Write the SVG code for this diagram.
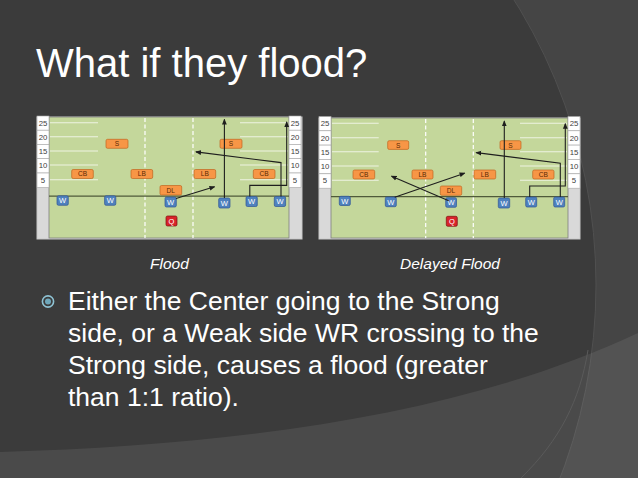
<svg xmlns="http://www.w3.org/2000/svg" width="638" height="478" viewBox="0 0 638 478">
<style>
.bg{fill:#454545}
.ttl{font-family:"Liberation Sans",Arial,sans-serif;font-size:40px;fill:#ffffff}
.cap{font-family:"Liberation Sans",Arial,sans-serif;font-size:15.5px;font-style:italic;fill:#ffffff}
.body{font-family:"Liberation Sans",Arial,sans-serif;font-size:26.5px;fill:#ffffff}
.frame{fill:#d9d9d9;stroke:#c8c8c8;stroke-width:1}
.field{fill:#c4d79b;stroke:#7f7f7f;stroke-width:0.8}
.num{fill:#ffffff;stroke:#a6a6a6;stroke-width:0.6}
.numt{font-family:"Liberation Sans",Arial,sans-serif;font-size:7.8px;fill:#404040;text-anchor:middle}
.yl{stroke:#eef3e2;stroke-width:1.1}
.dash{stroke:#ffffff;stroke-width:1.2;stroke-dasharray:4 2.5}
.los{stroke:#4f5a3a;stroke-width:1.3}
.def rect{fill:#f79646;stroke:#c0651f;stroke-width:0.7}
.def text{font-family:"Liberation Sans",Arial,sans-serif;font-size:6.6px;fill:#5a2a05;text-anchor:middle}
.off rect{fill:#4f81bd;stroke:#2f5597;stroke-width:0.7}
.off text{font-family:"Liberation Sans",Arial,sans-serif;font-size:7.5px;fill:#ffffff;text-anchor:middle}
.qb rect{fill:#d8232a;stroke:#7a1010;stroke-width:0.7}
.qb text{font-family:"Liberation Sans",Arial,sans-serif;font-size:7.5px;fill:#ffffff;text-anchor:middle}
.route{fill:none;stroke:#1e1e1e;stroke-width:1.1;marker-end:url(#ah)}
</style>
<defs>
<marker id="ah" markerUnits="userSpaceOnUse" markerWidth="6" markerHeight="6" viewBox="0 0 6 6" refX="5" refY="3" orient="auto">
<path d="M0,0.6 L6,3 L0,5.4 Z" fill="#1e1e1e"/>
</marker>
</defs>

<!-- background -->
<rect class="bg" x="0" y="0" width="638" height="478"/>
<circle cx="59" cy="285" r="537" fill="#3b3b3b" stroke="#505050" stroke-width="1"/>
<path d="M0,452 C250,445 470,412 638,333 L638,478 L0,478 Z" fill="#ffffff" fill-opacity="0.08"/>
<path d="M588,350 C580,400 560,440 521,478" fill="none" stroke="#5a5a5a" stroke-width="1"/>

<!-- title -->
<text class="ttl" x="36" y="77">What if they flood?</text>

<!-- ============ LEFT DIAGRAM: Flood ============ -->
<g id="diagram-flood">
<rect class="frame" x="37" y="117" width="265" height="122"/>
<rect class="field" x="49" y="117" width="240" height="121"/>
<g id="flood-numbers">
<rect class="num" x="37" y="116" width="12" height="14.2"/><text class="numt" x="43" y="125.7">25</text>
<rect class="num" x="37" y="130.2" width="12" height="14.2"/><text class="numt" x="43" y="139.8">20</text>
<rect class="num" x="37" y="144.4" width="12" height="14.2"/><text class="numt" x="43" y="154">15</text>
<rect class="num" x="37" y="158.6" width="12" height="14.4"/><text class="numt" x="43" y="168.2">10</text>
<rect class="num" x="37" y="173" width="12" height="14.4"/><text class="numt" x="43" y="182.7">5</text>
<rect class="num" x="289" y="116" width="12" height="14.2"/><text class="numt" x="295" y="125.7">25</text>
<rect class="num" x="289" y="130.2" width="12" height="14.2"/><text class="numt" x="295" y="139.8">20</text>
<rect class="num" x="289" y="144.4" width="12" height="14.2"/><text class="numt" x="295" y="154">15</text>
<rect class="num" x="289" y="158.6" width="12" height="14.4"/><text class="numt" x="295" y="168.2">10</text>
<rect class="num" x="289" y="173" width="12" height="14.4"/><text class="numt" x="295" y="182.7">5</text>
</g>
<g id="flood-lines">
<line class="yl" x1="50" y1="122.7" x2="98" y2="122.7"/>
<line class="yl" x1="50" y1="136.7" x2="98" y2="136.7"/>
<line class="yl" x1="50" y1="151" x2="98" y2="151"/>
<line class="yl" x1="50" y1="165" x2="98" y2="165"/>
<line class="yl" x1="50" y1="179.7" x2="98" y2="179.7"/>
<line class="yl" x1="240" y1="122.7" x2="288" y2="122.7"/>
<line class="yl" x1="240" y1="136.7" x2="288" y2="136.7"/>
<line class="yl" x1="240" y1="151" x2="288" y2="151"/>
<line class="yl" x1="240" y1="165" x2="288" y2="165"/>
<line class="yl" x1="240" y1="179.7" x2="288" y2="179.7"/>
<line class="dash" x1="145" y1="118" x2="145" y2="238"/>
<line class="dash" x1="193" y1="118" x2="193" y2="238"/>
<line class="los" x1="49" y1="196.2" x2="289" y2="196.2"/>
</g>
<g id="flood-S1" class="def"><rect x="106" y="139.3" width="22" height="9" rx="1.5"/><text x="117" y="146.2">S</text></g>
<g id="flood-S2" class="def"><rect x="220" y="139.3" width="22" height="9" rx="1.5"/><text x="231" y="146.2">S</text></g>
<g id="flood-CB1" class="def"><rect x="71.7" y="169.5" width="21.6" height="9" rx="1.5"/><text x="82.5" y="176.4">CB</text></g>
<g id="flood-LB1" class="def"><rect x="131" y="169.5" width="21.7" height="9" rx="1.5"/><text x="141.8" y="176.4">LB</text></g>
<g id="flood-LB2" class="def"><rect x="194" y="169.5" width="21.7" height="9" rx="1.5"/><text x="204.8" y="176.4">LB</text></g>
<g id="flood-CB2" class="def"><rect x="253.3" y="169.5" width="21.7" height="9" rx="1.5"/><text x="264.1" y="176.4">CB</text></g>
<g id="flood-DL" class="def"><rect x="160" y="185.5" width="21.7" height="9.5" rx="1.5"/><text x="170.8" y="192.6">DL</text></g>
<g id="flood-W1" class="off"><rect x="57" y="195.8" width="11.3" height="9.5" rx="1.5"/><text x="62.6" y="203.2">W</text></g>
<g id="flood-W2" class="off"><rect x="104.6" y="195.8" width="11.2" height="9.5" rx="1.5"/><text x="110.2" y="203.2">W</text></g>
<g id="flood-W3" class="off"><rect x="165" y="197" width="11.3" height="10" rx="1.5"/><text x="170.6" y="204.7">W</text></g>
<g id="flood-W4" class="off"><rect x="218.7" y="198" width="11.3" height="10" rx="1.5"/><text x="224.3" y="205.7">W</text></g>
<g id="flood-W5" class="off"><rect x="246" y="196.5" width="11.3" height="10" rx="1.5"/><text x="251.6" y="204.2">W</text></g>
<g id="flood-W6" class="off"><rect x="274.3" y="196.5" width="11.3" height="10" rx="1.5"/><text x="280" y="204.2">W</text></g>
<g id="flood-Q" class="qb"><rect x="166" y="216" width="11" height="10" rx="1.5"/><text x="171.5" y="223.7">Q</text></g>
<g id="flood-routes">
<path class="route" d="M176,198.5 L214.5,186.8"/>
<path class="route" d="M224.4,198 L224.4,119.5"/>
<path class="route" d="M249.8,196.5 L249.8,185.4 L286.7,185.4 L286.7,122"/>
<path class="route" d="M281,196.5 L281,162.6 L196,151.9"/>
</g>
</g>
<text class="cap" x="150" y="269">Flood</text>

<!-- ============ RIGHT DIAGRAM: Delayed Flood ============ -->
<g id="diagram-delayed">
<rect class="frame" x="319" y="118" width="261" height="121"/>
<rect class="field" x="331" y="118" width="237" height="120"/>
<g id="delayed-numbers">
<rect class="num" x="319" y="116.5" width="12" height="14.3"/><text class="numt" x="325" y="126.2">25</text>
<rect class="num" x="319" y="130.8" width="12" height="14.3"/><text class="numt" x="325" y="140.5">20</text>
<rect class="num" x="319" y="145.1" width="12" height="14.3"/><text class="numt" x="325" y="154.5">15</text>
<rect class="num" x="319" y="159.4" width="12" height="14.4"/><text class="numt" x="325" y="168.8">10</text>
<rect class="num" x="319" y="173.8" width="12" height="14.4"/><text class="numt" x="325" y="183.2">5</text>
<rect class="num" x="568" y="116.5" width="12" height="14.3"/><text class="numt" x="574" y="126.2">25</text>
<rect class="num" x="568" y="130.8" width="12" height="14.3"/><text class="numt" x="574" y="140.5">20</text>
<rect class="num" x="568" y="145.1" width="12" height="14.3"/><text class="numt" x="574" y="154.5">15</text>
<rect class="num" x="568" y="159.4" width="12" height="14.4"/><text class="numt" x="574" y="168.8">10</text>
<rect class="num" x="568" y="173.8" width="12" height="14.4"/><text class="numt" x="574" y="183.2">5</text>
</g>
<g id="delayed-lines">
<line class="yl" x1="332" y1="123.3" x2="378.7" y2="123.3"/>
<line class="yl" x1="332" y1="137.7" x2="378.7" y2="137.7"/>
<line class="yl" x1="332" y1="151.7" x2="378.7" y2="151.7"/>
<line class="yl" x1="332" y1="166" x2="378.7" y2="166"/>
<line class="yl" x1="332" y1="180.3" x2="378.7" y2="180.3"/>
<line class="yl" x1="520" y1="123.3" x2="567" y2="123.3"/>
<line class="yl" x1="520" y1="137.7" x2="567" y2="137.7"/>
<line class="yl" x1="520" y1="151.7" x2="567" y2="151.7"/>
<line class="yl" x1="520" y1="166" x2="567" y2="166"/>
<line class="yl" x1="520" y1="180.3" x2="567" y2="180.3"/>
<line class="dash" x1="425.7" y1="119" x2="425.7" y2="238"/>
<line class="dash" x1="473.3" y1="119" x2="473.3" y2="238"/>
<line class="los" x1="331" y1="196.7" x2="568" y2="196.7"/>
</g>
<g id="delayed-S1" class="def"><rect x="387.7" y="140.7" width="21" height="8.7" rx="1.5"/><text x="398.2" y="147.5">S</text></g>
<g id="delayed-S2" class="def"><rect x="500" y="140.7" width="21" height="8.7" rx="1.5"/><text x="510.5" y="147.5">S</text></g>
<g id="delayed-CB1" class="def"><rect x="353" y="170" width="21.7" height="9" rx="1.5"/><text x="363.8" y="176.9">CB</text></g>
<g id="delayed-LB1" class="def"><rect x="412" y="170" width="21" height="9" rx="1.5"/><text x="422.5" y="176.9">LB</text></g>
<g id="delayed-LB2" class="def"><rect x="474" y="170" width="21.7" height="9" rx="1.5"/><text x="484.8" y="176.9">LB</text></g>
<g id="delayed-CB2" class="def"><rect x="532.7" y="170" width="21.3" height="9" rx="1.5"/><text x="543.3" y="176.9">CB</text></g>
<g id="delayed-DL" class="def"><rect x="440.3" y="186" width="21.4" height="9.3" rx="1.5"/><text x="451" y="193">DL</text></g>
<g id="delayed-W1" class="off"><rect x="339.3" y="196.3" width="11" height="9.2" rx="1.5"/><text x="344.8" y="203.5">W</text></g>
<g id="delayed-W2" class="off"><rect x="385.3" y="197" width="11" height="9.7" rx="1.5"/><text x="390.8" y="204.5">W</text></g>
<g id="delayed-W3" class="off"><rect x="445.7" y="197.7" width="10.8" height="9.6" rx="1.5"/><text x="451.1" y="205.2">W</text></g>
<g id="delayed-W4" class="off"><rect x="498.3" y="198" width="11.4" height="10" rx="1.5"/><text x="504" y="205.7">W</text></g>
<g id="delayed-W5" class="off"><rect x="525.7" y="197" width="11" height="10" rx="1.5"/><text x="531.2" y="204.7">W</text></g>
<g id="delayed-W6" class="off"><rect x="553.7" y="197" width="11" height="10" rx="1.5"/><text x="559.2" y="204.7">W</text></g>
<g id="delayed-Q" class="qb"><rect x="446.3" y="216.3" width="11" height="10" rx="1.5"/><text x="451.8" y="224">Q</text></g>
<g id="delayed-routes">
<path class="route" d="M394.7,197.3 L464.6,173.2"/>
<path class="route" d="M448.7,200.7 L391.6,176.2"/>
<path class="route" d="M504.3,198 L504.3,121.2"/>
<path class="route" d="M529.7,197 L529.7,186 L565.3,186 L565.3,123.8"/>
<path class="route" d="M560.3,197 L560.3,163.3 L476.3,152.6"/>
</g>
</g>
<text class="cap" x="400" y="269">Delayed Flood</text>

<!-- bullet -->
<g id="bullet">
<circle cx="48" cy="301.5" r="5.6" fill="none" stroke="#8fc3d4" stroke-width="1.6"/>
<circle cx="48" cy="301.5" r="3" fill="#6fa8bb"/>
</g>
<text class="body" x="68" y="310">Either the Center going to the Strong</text>
<text class="body" x="68" y="342">side, or a Weak side WR crossing to the</text>
<text class="body" x="68" y="374">Strong side, causes a flood (greater</text>
<text class="body" x="68" y="406">than 1:1 ratio).</text>
</svg>
